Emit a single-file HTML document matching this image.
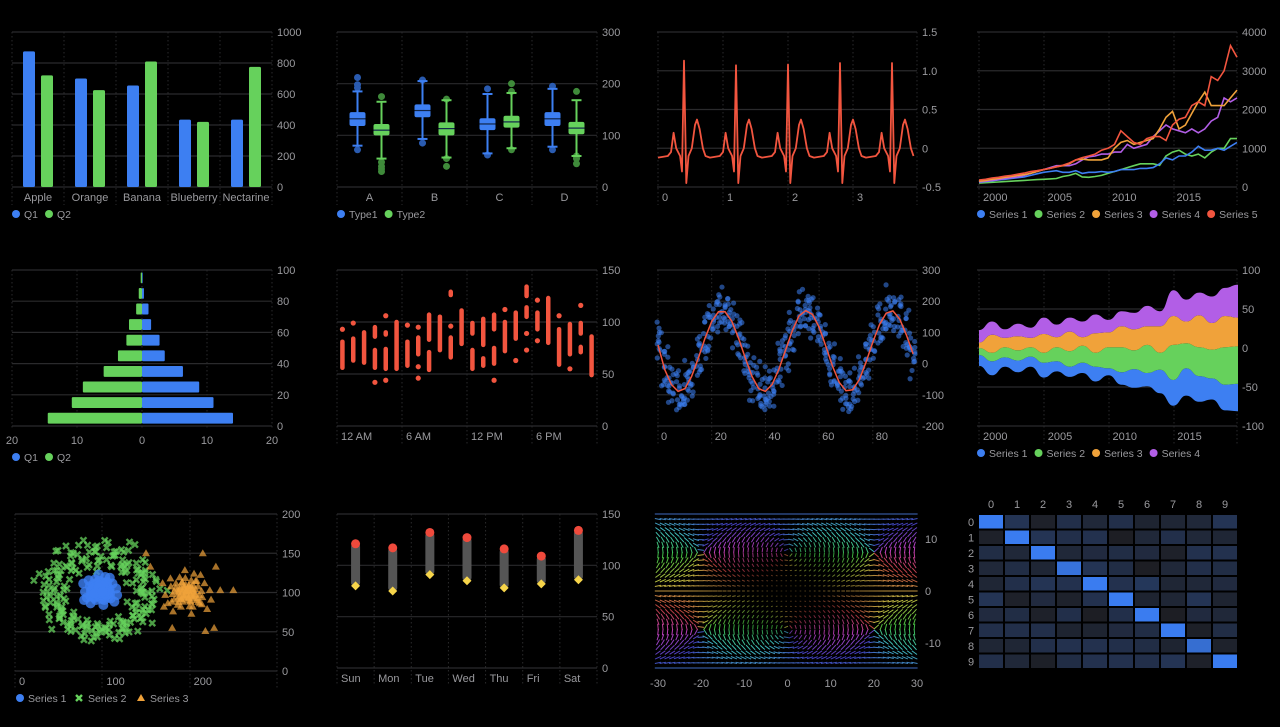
<!DOCTYPE html>
<html><head><meta charset="utf-8">
<style>
html,body{margin:0;padding:0;background:#000;}
svg{display:block;font-family:"Liberation Sans",sans-serif;}
text{fill:#9a9a9e;font-size:11px;}
text.lg{font-size:10.5px;}
</style></head>
<body>
<svg id="s" width="1280" height="727" viewBox="0 0 1280 727">
<rect width="1280" height="727" fill="#000"/>
</svg>
<script>
// ---------- DATA ----------
const barCats=["Apple","Orange","Banana","Blueberry","Nectarine"];
const barQ1=[875,700,655,435,435];
const barQ2=[720,625,810,420,775];

const boxCats=["A","B","C","D"];
// [whiskerLow,q1,median,q3,whiskerHigh]
const boxType1=[[80,118,132,145,185],[93,135,148,160,205],[65,110,122,133,180],[78,118,132,145,190]];
const boxType2=[[55,100,110,122,165],[57,100,113,125,168],[75,115,126,138,182],[60,102,114,126,168]];
const boxOut1=[[72,192,198,212],[85,207],[62,190],[72,195]];
const boxOut2=[[30,35,40,48,175],[40,55,170],[72,185,200],[45,55,60,185]];

const ecgPeaks=[0.40,1.20,2.00,2.80,3.60];
const ecgPeakH=[1.13,1.07,1.08,1.10,1.10];
const ecgOff=[-0.40,-0.25,-0.20,-0.16,-0.12,-0.06,-0.03,0,0.035,0.07,0.12,0.17,0.20,0.24,0.29,0.33,0.40];
const ecgVal=[-0.12,-0.10,-0.05,0.20,0.0,-0.10,-0.30,1.1,-0.45,-0.10,0.0,0.30,0.37,0.25,0.0,-0.10,-0.12];
const ecgTicks=[-0.5,0,0.5,1,1.5];
const ecgTickLabels=["-0.5","0","0.5","1.0","1.5"];

const lineYearStart=2000; // half-year steps
const lineS1=[120,140,160,180,200,220,240,260,300,340,380,400,420,380,380,420,350,380,380,400,380,400,450,450,450,480,480,500,600,750,700,800,800,900,1050,950,950,1000,950,1050,1150];
const lineS2=[100,110,120,130,140,150,160,170,180,190,200,210,220,270,300,350,260,250,270,300,350,400,450,500,550,600,600,600,560,800,900,950,850,800,850,750,900,1000,1000,1250,1250];
const lineS3=[150,170,200,220,250,270,300,320,350,400,450,480,520,550,600,700,720,700,700,700,750,1000,1150,1200,1100,1150,1200,1250,1500,1800,1950,1500,1600,1900,2200,2450,2100,2100,2100,2300,2500];
const lineS4=[130,150,170,190,220,240,260,300,350,400,450,500,550,550,550,600,700,780,800,850,850,900,900,1100,1000,1050,1100,1300,1450,1600,1500,1450,1400,1500,1400,1500,1700,1800,2300,2200,2300];
const lineS5=[180,200,230,250,280,300,330,360,400,420,450,480,520,560,620,700,760,800,850,950,1000,1100,1450,1300,1150,1100,1250,1300,1300,1200,1600,1750,1800,2100,2200,2100,2850,2750,3000,3650,3350];

const pyrQ1=[14,11,8.8,6.3,3.5,2.7,1.4,1,0.3,0.1];
const pyrQ2=[14.5,10.8,9.1,5.9,3.7,2.4,2,0.9,0.5,0.2];

// per hour: list of [low,high] segments (dots are low==high)
const rangeData=[
[[55,82],[93,93]],[[62,85],[99,99]],[[60,91]],[[55,74],[85,96],[42,42]],
[[54,75],[87,91],[44,44],[106,106]],[[54,101]],[[57,82],[97,97]],[[68,86],[57,57],[46,46],[95,95]],
[[53,72],[82,108]],[[72,106]],[[65,86],[96,96],[125,130]],[[78,112]],
[[54,74],[88,100]],[[57,66],[77,104]],[[59,76],[92,108],[44,44]],[[71,101],[112,112]],
[[83,110],[63,63]],[[104,115],[124,135],[89,89],[73,73]],[[92,110],[121,121],[82,82]],[[79,124]],
[[58,94],[106,106]],[[68,99],[55,55]],[[70,77],[88,100],[116,116]],[[48,87]]];

const sineX=[0,2.5,5,7.5,10,12.5,15,17.5,20,22.5,25,27.5,30,32.5,35,37.5,40,42.5,45,47.5,50,52.5,55,57.5,60,62.5,65,67.5,70,72.5,75,77.5,80,82.5,85,87.5,90,92.5,95];
const sineY=[60,-19,-67,-89,-80,-41,17,81,135,166,166,136,81,18,-41,-80,-89,-67,-19,43,105,153,170,158,117,56,-8,-60,-87,-84,-51,5,69,125,162,169,143,92,31];

const streamYears=[2000,2001,2002,2003,2004,2005,2006,2007,2008,2009,2010,2011,2012,2013,2014,2015,2016,2017,2018,2019,2020];
const streamBase=[-23,-35,-24,-31,-24,-38,-30,-37,-32,-43,-35,-47,-51,-49,-58,-74,-61,-69,-66,-80,-81];
const streamS1=[14,18,12,15,13,19,13,13,13,19,9,16,24,17,30,33,35,33,27,33,35];
const streamS2=[9,11,13,13,12,13,18,20,22,18,27,32,24,36,22,45,32,37,37,48,48];
const streamS3=[7,23,12,18,12,24,13,25,11,25,19,27,27,24,34,37,28,41,34,40,37];
const streamS4=[16,17,11,16,13,21,16,18,20,24,16,19,21,26,19,33,28,29,34,36,42];

const scatOff=[[.1,.3],[-.4,.2],[.5,-.1],[-.2,-.6],[.7,.4],[-.8,-.1],[.3,.8],[-.1,-.2],[.2,-.9],[-.6,.6],[.9,.1],[-.3,-.4],[.4,.5],[0,.1],[-.5,-.8],[.6,-.5],[-.9,.4],[.15,-.35],[-.25,.65],[.8,-.7],[-.7,-.45],[.35,.15],[-.05,.95],[.55,.75],[-.45,.05],[.25,-.6],[-.85,-.6],[.95,-.3],[-.15,.45],[.45,-.25]];
const ringAngles=[0,7,13,19,25,31,38,44,50,56,62,69,75,81,87,93,100,106,112,118,124,131,137,143,149,155,162,168,174,180,186,193,199,205,211,217,224,230,236,242,248,255,261,267,273,279,286,292,298,304,310,317,323,329,335,341,348,354];
const clusterCenters=[[97,103],[97,100],[196,100]];
const orangeOutliers=[[215,150],[150,150],[230,133],[155,133],[250,103],[235,103],[180,55],[228,55],[218,51],[210,88]];

const dayCats=["Sun","Mon","Tue","Wed","Thu","Fri","Sat"];
const dayHigh=[121,117,132,127,116,109,134];
const dayLow=[80,75,91,85,78,82,86];

const heat=[
[1,.25,.05,.2,.12,.2,.08,.1,.12,.25],
[.05,1,.25,.2,.22,.02,.12,.2,.12,.1],
[.18,.12,1,.12,.15,.18,.15,.05,.22,.22],
[.12,.18,.1,.9,.25,.18,.02,.12,.2,.18],
[.1,.2,.25,.22,1,.22,.28,.1,.12,.15],
[.25,.05,.15,.06,.22,1,.08,.1,.25,.08],
[.15,.18,.05,.2,.02,.2,1,.02,.15,.12],
[.2,.2,.2,.08,.08,.15,.18,1,.04,.18],
[.1,.1,.2,.22,.22,.2,.18,.08,.85,.06],
[.2,.12,.04,.18,.22,.22,.2,.25,.05,1]];

// ---------- HELPERS ----------
const NS="http://www.w3.org/2000/svg";
const S=document.getElementById('s');
const BLUE="#3d7ff2",GREEN="#66d15c",ORANGE="#f0a23a",PURPLE="#b25ee6",RED="#f2553f",GRID="#2a2a2c";
function el(tag,attrs,parent){const e=document.createElementNS(NS,tag);for(const k in attrs)e.setAttribute(k,attrs[k]);(parent||S).appendChild(e);return e;}
function txt(x,y,s,anchor,parent){const t=el('text',{x:x,y:y,'text-anchor':anchor||'start'},parent);t.textContent=s;return t;}
function grp(name){const g=el('g',{});return g;}
function lin(d0,d1,r0,r1){return v=>r0+(v-d0)/(d1-d0)*(r1-r0);}
function grid(g,x0,x1,y0,y1,ys,ticks,xlines,ext,labels){
  ticks.forEach((v,i)=>{el('line',{x1:x0,x2:x1,y1:ys(v),y2:ys(v),stroke:GRID,'stroke-width':1.2},g);txt(x1+5,ys(v)+4,labels?labels[i]:String(v),'start',g);});
  xlines.forEach(x=>el('line',{x1:x,x2:x,y1:y0,y2:y1+(ext||18),stroke:GRID,'stroke-dasharray':'1.5,2.5'},g));
}
function legend(g,x,y,items){
  let cx=x;items.forEach(([c,n])=>{el('circle',{cx:cx+4,cy:y,r:4,fill:c},g);const t=txt(cx+12,y+4,n,'start',g);t.setAttribute('class','lg');let w=n.length*5.3;try{w=t.getComputedTextLength();}catch(e){}cx+=12+w+7;});
}

// ---------- 1: grouped bars ----------
(function(){const g=grp('grouped-bar-chart');const x0=12,x1=272,y0=32,y1=187;const ys=lin(0,1000,y1,y0);
grid(g,x0,x1,y0,y1,ys,[0,200,400,600,800,1000],[12,64,116,168,220,272]);
const bw=(x1-x0)/barCats.length;
barCats.forEach((c,i)=>{const cx=x0+bw*(i+.5);
 [[barQ1[i],BLUE,-9],[barQ2[i],GREEN,9]].forEach(([v,col,o],k)=>{const r=el('rect',{x:cx+o-6,y:ys(v),width:12,height:ys(0)-ys(v),fill:col,rx:1.5},g);});
 txt(cx,201,c,'middle',g);});
legend(g,12,214,[[BLUE,'Q1'],[GREEN,'Q2']]);})();

// ---------- 2: box plots ----------
(function(){const g=grp('box-plot-chart');const x0=337,x1=597,y0=32,y1=187;const ys=lin(0,300,y1,y0);
grid(g,x0,x1,y0,y1,ys,[0,100,200,300],[337,402,467,532,597]);
const bw=(x1-x0)/boxCats.length;
boxCats.forEach((c,i)=>{const cx=x0+bw*(i+.5);
 [[boxType1[i],boxOut1[i],BLUE,'#2a5bb0',-12],[boxType2[i],boxOut2[i],GREEN,'#3f8a3a',12]].forEach(([b,out,col,dk,o])=>{const x=cx+o;
  out.forEach(v=>el('circle',{cx:x,cy:ys(v),r:3.5,fill:dk},g));
  el('line',{x1:x,x2:x,y1:ys(b[0]),y2:ys(b[4]),stroke:col,'stroke-width':2},g);
  el('line',{x1:x-5,x2:x+5,y1:ys(b[0]),y2:ys(b[0]),stroke:col,'stroke-width':2},g);
  el('line',{x1:x-5,x2:x+5,y1:ys(b[4]),y2:ys(b[4]),stroke:col,'stroke-width':2},g);
  const r=el('rect',{x:x-8,y:ys(b[3]),width:16,height:ys(b[1])-ys(b[3]),fill:col,rx:2},g);
  
  el('line',{x1:x-8,x2:x+8,y1:ys(b[2]),y2:ys(b[2]),stroke:'#10254a','stroke-width':1.2},g);
 });
 txt(cx,201,c,'middle',g);});
legend(g,337,214,[[BLUE,'Type1'],[GREEN,'Type2']]);})();

// ---------- 3: ECG ----------
(function(){const g=grp('ecg-line-chart');const x0=657,x1=917,y0=32,y1=187;const ys=lin(-0.5,1.5,y1,y0),xs=lin(0,1,658,723);
grid(g,x0,x1,y0,y1,ys,ecgTicks,[658,723,788,853,917],18,ecgTickLabels);
let d='';ecgPeaks.forEach((p,i)=>{ecgOff.forEach((o,k)=>{const v=k===7?ecgPeakH[i]:ecgVal[k];const x=xs(p+o);if(x>x1)return;d+=(d?'L':'M')+x.toFixed(1)+','+ys(v).toFixed(1);});});
const pa=el('path',{d:d,fill:'none',stroke:RED,'stroke-width':1.8,'stroke-linejoin':'round'},g);
[0,1,2,3].forEach(v=>txt(xs(v)+4,201,String(v),'start',g));})();

// ---------- 4: multi line ----------
(function(){const g=grp('multi-line-chart');const x0=977,x1=1237,y0=32,y1=187;const ys=lin(0,4000,y1,y0),xs=lin(2000,2020,979,1237);
grid(g,x0,x1,y0,y1,ys,[0,1000,2000,3000,4000],[979,1044,1109,1174,1237]);
[[lineS2,GREEN,'series-2'],[lineS1,BLUE,'series-1'],[lineS4,PURPLE,'series-4'],[lineS3,ORANGE,'series-3'],[lineS5,RED,'series-5']].forEach(([a,c,n])=>{
 const d=a.map((v,i)=>(i?'L':'M')+xs(lineYearStart+i*0.5).toFixed(1)+','+ys(v).toFixed(1)).join('');
 const p=el('path',{d:d,fill:'none',stroke:c,'stroke-width':1.6},g);});
[2000,2005,2010,2015].forEach(v=>txt(xs(v)+4,201,String(v),'start',g));
legend(g,977,214,[[BLUE,'Series 1'],[GREEN,'Series 2'],[ORANGE,'Series 3'],[PURPLE,'Series 4'],[RED,'Series 5']]);})();

// ---------- 5: pyramid ----------
(function(){const g=grp('population-pyramid');const x0=12,x1=272,y0=270,y1=426;const ys=lin(0,100,y1,y0),xs=lin(-20,20,12,272);
grid(g,x0,x1,y0,y1,ys,[0,20,40,60,80,100],[12,77,142,207,272],4);
pyrQ1.forEach((v,i)=>{const yt=ys(i*10+8.5),h=ys(i*10+1.5)-yt;
 const a=el('rect',{x:xs(0),y:yt,width:xs(v)-xs(0),height:h,fill:BLUE,rx:1},g);
 const b=el('rect',{x:xs(-pyrQ2[i]),y:yt,width:xs(0)-xs(-pyrQ2[i]),height:h,fill:GREEN,rx:1},g);});
[[-20,'20'],[-10,'10'],[0,'0'],[10,'10'],[20,'20']].forEach(([v,s])=>txt(xs(v),444,s,'middle',g));
legend(g,12,457,[[BLUE,'Q1'],[GREEN,'Q2']]);})();

// ---------- 6: range bars ----------
(function(){const g=grp('hourly-range-chart');const x0=337,x1=597,y0=270,y1=426;const ys=lin(0,150,y1,y0),xs=lin(0,24,337,597);
grid(g,x0,x1,y0,y1,ys,[0,50,100,150],[337,402,467,532,597]);
rangeData.forEach((segs,h)=>{const x=xs(h+0.5);segs.forEach(([lo,hi])=>{
 if(lo===hi)el('circle',{cx:x,cy:ys(lo),r:2.6,fill:RED},g);
 else{const r=el('line',{x1:x,x2:x,y1:ys(lo)-1,y2:ys(hi)+1,stroke:RED,'stroke-width':4.5,'stroke-linecap':'round'},g);}});});
['12 AM','6 AM','12 PM','6 PM'].forEach((s,i)=>txt(xs(i*6)+4,440,s,'start',g));})();

// ---------- 7: sine scatter ----------
(function(){const g=grp('sine-scatter-chart');const x0=657,x1=917,y0=270,y1=426;const ys=lin(-200,300,y1,y0),xs=lin(0,20,658,711.7);
grid(g,x0,x1,y0,y1,ys,[-200,-100,0,100,200,300],[0,20,40,60,80].map(xs).concat([917]));
sineX.forEach((x,i)=>{for(let k=0;k<13;k++){const o=scatOff[(i*7+k*3)%30],o2=scatOff[(i*11+k)%30];
 const px=xs(x+o[0]*1.3),py=ys(sineY[i]+o2[1]*75+o[1]*20);if(px<x0||px>x1)continue;
 el('circle',{cx:px,cy:py,r:2.6,fill:BLUE,'fill-opacity':0.55},g);}});
const d=sineX.map((x,i)=>(i?'L':'M')+xs(x).toFixed(1)+','+ys(sineY[i]).toFixed(1)).join('');
const p=el('path',{d:d,fill:'none',stroke:RED,'stroke-width':1.5},g);
[0,20,40,60,80].forEach(v=>txt(xs(v)+3,440,String(v),'start',g));})();

// ---------- 8: streamgraph ----------
(function(){const g=grp('streamgraph');const x0=977,x1=1237,y0=270,y1=426;const ys=lin(-100,100,y1,y0),xs=lin(2000,2020,979,1238);
grid(g,x0,x1,y0,y1,ys,[-100,-50,0,50,100],[979,1044,1109,1174,1237]);
const layers=[streamS1,streamS2,streamS3,streamS4],cols=[BLUE,GREEN,ORANGE,PURPLE];
let lower=streamBase.slice();
const f=n=>n.toFixed(1);
function curve(pts){let d='';for(let i=1;i<pts.length;i++){const q=pts[i-1],p=pts[i],m=(q[0]+p[0])/2;d+='C'+f(m)+','+f(q[1])+' '+f(m)+','+f(p[1])+' '+f(p[0])+','+f(p[1]);}return d;}
layers.forEach((L,li)=>{const upper=lower.map((v,i)=>v+L[i]);
 const up=streamYears.map((y,i)=>[xs(y),ys(upper[i])]);
 const lo=streamYears.map((y,i)=>[xs(y),ys(lower[i])]).reverse();
 const d='M'+f(up[0][0])+','+f(up[0][1])+curve(up)+'L'+f(lo[0][0])+','+f(lo[0][1])+curve(lo)+'Z';
 const p=el('path',{d:d,fill:cols[li]},g);
 lower=upper;});
[2000,2005,2010,2015].forEach(v=>txt(xs(v)+4,440,String(v),'start',g));
legend(g,977,453,[[BLUE,'Series 1'],[GREEN,'Series 2'],[ORANGE,'Series 3'],[PURPLE,'Series 4']]);})();

// ---------- 9: clusters ----------
(function(){const g=grp('cluster-scatter-chart');const x0=15,x1=277,y0=514,y1=671;const ys=lin(0,200,y1,y0),xs=lin(0,300,15,277);
grid(g,x0,x1,y0,y1,ys,[0,50,100,150,200],[15,102,190,277]);
function cross(x,y){const s=3;el('path',{d:`M${x-s},${y-s}L${x+s},${y+s}M${x-s},${y+s}L${x+s},${y-s}`,stroke:GREEN,'stroke-width':2.4,'stroke-opacity':0.75},g);}
[[46,0],[58,11],[66,23],[52,17]].forEach(([r,sh])=>ringAngles.forEach((a,i)=>{if((i+sh)%3===0&&r>60)return;const o=scatOff[(i+sh)%30];const rr=r+o[0]*12;const t=a*Math.PI/180+sh*0.05;
 cross(xs(clusterCenters[1][0]+rr*Math.cos(t)+o[1]*6),ys(clusterCenters[1][1]+rr*Math.sin(t)*0.92+o[0]*6));}));
[1,0.6,0.35].forEach(sc=>scatOff.forEach(o=>el('circle',{cx:xs(clusterCenters[0][0]+o[0]*21*sc),cy:ys(clusterCenters[0][1]+o[1]*21*sc),r:5,fill:BLUE,'fill-opacity':0.8},g)));
function tri(x,y){el('path',{d:`M${x},${y-4}L${x+4},${y+3}L${x-4},${y+3}Z`,fill:ORANGE,'fill-opacity':0.7},g);}
[1,0.65,0.35].forEach(sc=>scatOff.forEach(o=>tri(xs(clusterCenters[2][0]+o[0]*30*sc),ys(clusterCenters[2][1]+o[1]*30*sc))));
orangeOutliers.forEach(([x,y])=>tri(xs(x),ys(y)));
[0,100,200].forEach(v=>txt(xs(v)+4,685,String(v),'start',g));
const lg=g;el('circle',{cx:20,cy:698,r:4,fill:BLUE},lg);txt(28,702,'Series 1','start',lg).setAttribute('class','lg');
el('path',{d:'M76,695L82,701M76,701L82,695',stroke:GREEN,'stroke-width':2.4},lg);txt(88,702,'Series 2','start',lg).setAttribute('class','lg');
el('path',{d:'M141,694L145,701L137,701Z',fill:ORANGE},lg);txt(150,702,'Series 3','start',lg).setAttribute('class','lg');})();

// ---------- 10: dumbbell ----------
(function(){const g=grp('daily-range-chart');const x0=337,x1=597,y0=514,y1=668;const ys=lin(0,150,y1,y0);const bw=(x1-x0)/7;
grid(g,x0,x1,y0,y1,ys,[0,50,100,150],[0,1,2,3,4,5,6,7].map(i=>x0+i*bw));
dayCats.forEach((c,i)=>{const cx=x0+bw*(i+.5);
 const r=el('rect',{x:cx-4.5,y:ys(dayHigh[i]),width:9,height:ys(dayLow[i])-ys(dayHigh[i]),fill:'#555',rx:3},g);
 el('circle',{cx:cx,cy:ys(dayHigh[i]),r:4.5,fill:'#ef4a3c'},g);
 const y=ys(dayLow[i]);el('path',{d:`M${cx},${y-4.5}L${cx+4.5},${y}L${cx},${y+4.5}L${cx-4.5},${y}Z`,fill:'#f7d54a'},g);
 txt(x0+bw*i+4,682,c,'start',g);});})();

// ---------- 11: vector field ----------
(function(){const g=grp('vector-field');const xs=lin(-30,30,658,917),ys=lin(-15,15,668,514);
for(let gx=-30;gx<=30;gx+=1.1){for(let gy=-15;gy<=15;gy+=1){
 const u=Math.cos(Math.PI*gy/15)+0.001,v=Math.sin(Math.PI*gx/20)*Math.sin(Math.PI*gy/15);
 const m=Math.min(1,Math.hypot(gx/30,gy/15)*1.3);const a=Math.atan2(v,u);const L=3.2*Math.max(m,0.25);
 const x=xs(gx),y=ys(gy);const hue=((a*180/Math.PI)+40+360)%360;
 el('line',{x1:x-L*Math.cos(a),y1:y+L*Math.sin(a),x2:x+L*Math.cos(a),y2:y-L*Math.sin(a),stroke:`hsl(${hue},50%,${12+38*m}%)`,'stroke-width':1},g);}}
[[10,539],[0,591],[-10,643]].forEach(([v,y])=>txt(925,y+4,String(v),'start',g));
[-30,-20,-10,0,10,20,30].forEach(v=>txt(xs(v),687,String(v),'middle',g));})();

// ---------- 12: heatmap ----------
(function(){const g=grp('correlation-heatmap');const x0=978,y0=514,cw=26,ch=15.5;
function col(t){const k=t;const a=[28,28,32],b=[58,124,240];return `rgb(${a.map((c,i)=>Math.round(c+(b[i]-c)*k)).join(',')})`;}
heat.forEach((row,r)=>{row.forEach((v,c)=>{const e=el('rect',{x:x0+c*cw+0.5,y:y0+r*ch+0.5,width:cw-1,height:ch-1,fill:col(v),stroke:'#000','stroke-width':1},g);
 });
 txt(971,y0+r*ch+12,String(r),'middle',g);});
for(let c=0;c<10;c++)txt(x0+c*cw+13,508,String(c),'middle',g);})();
</script>
</body></html>
